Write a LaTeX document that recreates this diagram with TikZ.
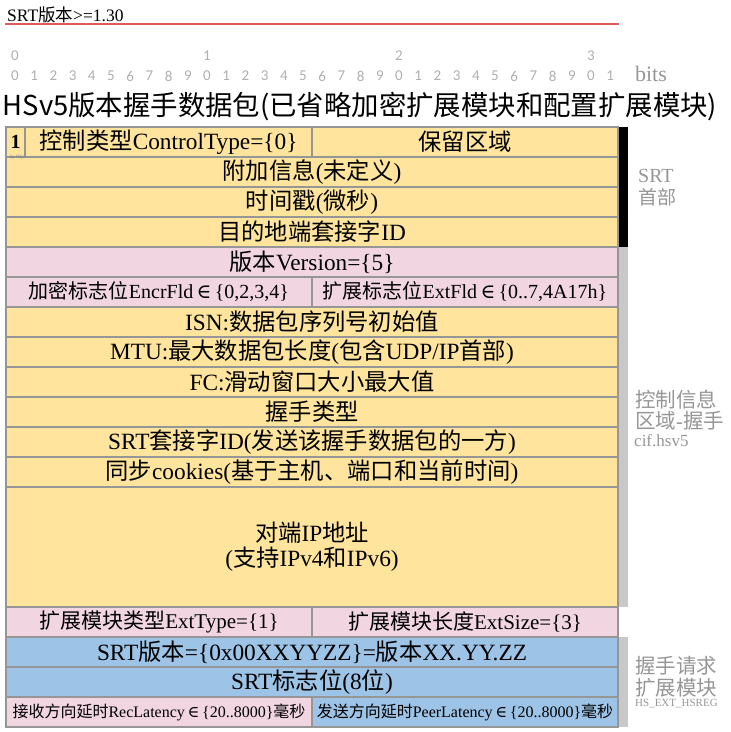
\documentclass[tikz,border=0pt]{standalone}
\usepackage{fontspec}
\setmainfont{Liberation Serif}
\newfontfamily\cjk{Noto Sans CJK SC}
\newfontfamily\digitfont{Carlito}
\newfontfamily\symfont{DejaVu Serif}
\newcommand\zh[1]{{\cjk #1}}
\newcommand\fs[1]{\fontsize{#1}{#1}\selectfont}
\newcommand\inn{\,{\symfont ∈}\,}
\definecolor{cy}{RGB}{254,228,156}
\definecolor{cp}{RGB}{241,214,226}
\definecolor{cb}{RGB}{157,195,230}
\definecolor{cellline}{RGB}{150,150,150}
\definecolor{barg}{RGB}{200,200,200}
\definecolor{labg}{RGB}{150,150,150}
\definecolor{digg}{RGB}{175,175,175}
\definecolor{redl}{RGB}{224,90,90}
\begin{document}
\begin{tikzpicture}[x=1pt,y=-1pt,
  cell/.style={draw=cellline,line width=1.6pt,inner sep=0pt,outer sep=0pt,anchor=north west,font=\fs{23.3},minimum height=30pt},
  yc/.style={cell,fill=cy},
  pc/.style={cell,fill=cp},
  bc/.style={cell,fill=cb},
  full/.style={minimum width=612pt},
  halfw/.style={minimum width=306pt},
  lab/.style={anchor=west,inner sep=0pt,text=labg},
  dig/.style={inner sep=0pt,text=digg,font=\digitfont\fs{15}}
]
\useasboundingbox (0,0) rectangle (731,732);
% top caption
\node[anchor=west,inner sep=0pt,font=\fs{17.5}] (vercap) at (7,15) {SRT\zh{版本}>=1.30};
\coordinate (rl1) at (5,24);
\coordinate (rl2) at (619,24);
\draw[redl,line width=1.5pt] (rl1) -- (rl2);
% bit ruler
\foreach \t in {0,1,2,3} {\node[dig] (t\t) at (15+192*\t,56) {\t};}
\foreach \i in {0,...,31} {\pgfmathtruncatemacro\d{mod(\i,10)}\node[dig] (b\i) at (15+19.2*\i,76) {\d};}
\node[text=labg,inner sep=0pt,font=\fs{22}] (bits) at (651,74) {bits};
% title
\node[inner sep=0pt,font=\cjk\fs{27.4}] (title) at (360,107) {HSv5版本握手数据包(已省略加密扩展模块和配置扩展模块)};
% table
\node[yc,minimum width=19pt,font=\bfseries\fs{20}] (one) at (6,127) {1};
\node[yc,minimum width=287pt] (ctype) at (25,127) {\zh{控制类型}ControlType=\{0\}};
\node[yc,halfw] (resv) at (312,127) {\zh{保留区域}};
\node[yc,full] (addinfo) at (6,157) {\zh{附加信息}(\zh{未定义})};
\node[yc,full] (ts) at (6,187) {\zh{时间戳}(\zh{微秒})};
\node[yc,full] (dst) at (6,217) {\zh{目的地端套接字}ID};
\node[pc,full] (ver) at (6,247) {\zh{版本}Version=\{5\}};
\node[pc,halfw,font=\fs{20}] (encr) at (6,277) {\zh{加密标志位}EncrFld\inn\{0,2,3,4\}};
\node[pc,halfw,font=\fs{20}] (extf) at (312,277) {\zh{扩展标志位}ExtFld\inn\{0..7,4A17h\}};
\node[yc,full] (isn) at (6,307) {ISN:\zh{数据包序列号初始值}};
\node[yc,full] (mtu) at (6,337) {MTU:\zh{最大数据包长度}(\zh{包含}UDP/IP\zh{首部})};
\node[yc,full] (fc) at (6,367) {FC:\zh{滑动窗口大小最大值}};
\node[yc,full] (hstype) at (6,397) {\zh{握手类型}};
\node[yc,full] (sock) at (6,427) {SRT\zh{套接字}ID(\zh{发送该握手数据包的一方})};
\node[yc,full] (cookie) at (6,457) {\zh{同步}cookies(\zh{基于主机、端口和当前时间})};
\node[yc,full,minimum height=120pt,align=center,font=\fontsize{23.3}{25}\selectfont] (peerip) at (6,487) {\zh{对端}IP\zh{地址}\\(\zh{支持}IPv4\zh{和}IPv6)};
\node[pc,halfw,font=\fs{21}] (exttype) at (6,607) {\zh{扩展模块类型}ExtType=\{1\}};
\node[pc,halfw,font=\fs{21}] (extsize) at (312,607) {\zh{扩展模块长度}ExtSize=\{3\}};
\node[bc,full] (srtver) at (6,637) {SRT\zh{版本}=\{0x00XXYYZZ\}=\zh{版本}XX.YY.ZZ};
\node[bc,full] (srtflag) at (6,667) {SRT\zh{标志位}(8\zh{位})};
\node[pc,halfw,font=\fs{16}] (reclat) at (6,697) {\zh{接收方向延时}RecLatency\inn\{20..8000\}\zh{毫秒}};
\node[bc,halfw,font=\fs{16}] (peerlat) at (312,697) {\zh{发送方向延时}PeerLatency\inn\{20..8000\}\zh{毫秒}};
\node[inner sep=0pt,text=gray,font=\itshape\fs{5}] (sig) at (18,157) {by Ihlyc};
% side bars
\fill[black] (619,127) rectangle (628,247);
\fill[barg] (619,247) rectangle (628,607);
\fill[barg] (619,637) rectangle (628,727);
% side labels
\node[lab,font=\fs{20}] (srtl) at (638,176) {SRT};
\node[lab,font=\cjk\fs{19}] (hdrl) at (638,197) {首部};
\node[lab,font=\cjk\fs{20.5}] (cif1) at (635,400) {控制信息};
\node[lab,font=\fs{20.5}] (cif2) at (635,421) {\zh{区域}-\zh{握手}};
\node[lab,font=\fs{17}] (cif3) at (634,441) {cif.hsv5};
\node[lab,font=\cjk\fs{20.5}] (hs1) at (635,666) {握手请求};
\node[lab,font=\cjk\fs{20.5}] (hs2) at (635,688) {扩展模块};
\node[lab,font=\fs{11}] (hs3) at (635,704) {HS\_EXT\_HSREG};
\end{tikzpicture}
\end{document}
